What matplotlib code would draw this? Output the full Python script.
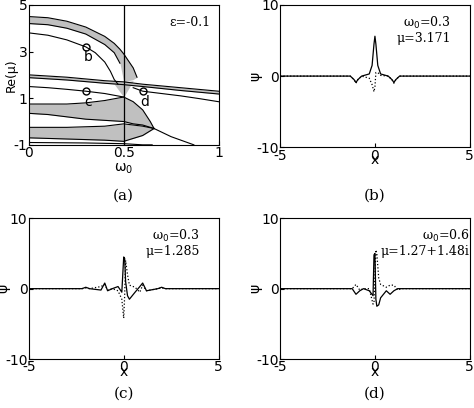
import matplotlib
matplotlib.use("Agg")
import matplotlib.pyplot as plt
import numpy as np

plt.rcParams['font.family'] = ['DejaVu Sans']
plt.rcParams['axes.unicode_minus'] = False

# ---- panel (a) band data ----
w_a = [0, 0.1, 0.2, 0.3, 0.4, 0.45, 0.48, 0.5, 0.55, 0.57]
bandA_hi = [4.5, 4.45, 4.3, 4.05, 3.65, 3.35, 3.1, 2.9, 2.3, 1.9]
bandA_lo = [4.2, 4.15, 4.0, 3.75, 3.3, 2.95, 2.5, 1.7, 1.8, 1.9]
w_b = [0, 0.2, 0.4, 0.5, 0.6, 0.8, 1.0]
bandB_hi = [2.0, 1.9, 1.75, 1.7, 1.6, 1.45, 1.3]
bandB_lo = [1.88, 1.78, 1.64, 1.58, 1.5, 1.33, 1.18]
w_t = [0.45, 0.5, 0.55]
tri_hi = [1.6, 1.7, 1.75]
tri_lo = [1.6, 1.05, 1.75]
w_c = [0, 0.1, 0.2, 0.3, 0.4, 0.5, 0.55, 0.6, 0.64, 0.66]
bandC_hi = [0.75, 0.75, 0.75, 0.8, 0.9, 1.05, 0.85, 0.5, 0.0, -0.3]
bandC_lo = [0.35, 0.3, 0.2, 0.1, 0.05, 0.0, -0.1, -0.15, -0.25, -0.3]
w_d = [0, 0.2, 0.4, 0.5, 0.6, 0.66]
bandD_hi = [-0.25, -0.25, -0.2, -0.1, -0.2, -0.3]
bandD_lo = [-0.7, -0.75, -0.8, -0.85, -0.6, -0.3]
# white-pocket / extra lines
w_bl = [0, 0.1, 0.2, 0.3, 0.35, 0.4, 0.43, 0.45, 0.47]
line_b = [3.8, 3.7, 3.5, 3.2, 2.95, 2.55, 2.15, 1.8, 1.6]
w_cl = [0, 0.1, 0.2, 0.3, 0.4, 0.5]
line_c = [1.5, 1.45, 1.38, 1.3, 1.2, 1.05]
w_dl = [0.55, 0.6, 0.7, 0.8, 0.9, 1.0]
line_d = [1.45, 1.3, 1.2, 1.1, 0.98, 0.85]
w_tail = [0.66, 0.75, 0.87]
tail = [-0.3, -0.65, -1.0]
w_bot = [0, 0.3, 0.5, 0.6, 0.65]
bot1 = [-0.9, -0.92, -0.95, -1.0, -1.0]
pts_w = [0.3, 0.3, 0.6]
pts_mu = [3.2, 1.3, 1.3]
pts_lab = ['b', 'c', 'd']

# ---- profile data ----
x_b = [-5, -1.3, -1.1, -1.0, -0.9, -0.7, -0.3, -0.15, -0.05, 0, 0.05, 0.15, 0.3, 0.7, 0.9, 1.0, 1.1, 1.3, 5]
sol_b = [0, 0, -0.5, -0.9, -0.5, 0, 0.3, 1.5, 4.5, 5.6, 4.5, 1.5, 0.3, 0, -0.5, -0.9, -0.5, 0, 0]
dot_b = [0, 0, -0.5, -1.0, -0.5, 0, -0.3, -1.2, -2.2, -1.5, 0.5, 0.5, 0.1, 0, -0.5, -1.0, -0.5, 0, 0]
x_c = [-5, -2.2, -2.0, -1.8, -1.2, -1.0, -0.85, -0.6, -0.3, -0.1, 0, 0.05, 0.1, 0.2, 0.3, 0.6, 0.85, 1.0, 1.2, 1.8, 2.0, 2.2, 5]
sol_c = [0, 0, 0.2, 0, -0.2, 0.8, -0.3, 0, 0.3, -0.5, 4.5, 4.3, 1.0, -1.0, -1.5, -0.5, 0.3, 0.8, -0.3, 0, 0.2, 0, 0]
dot_c = [0, 0, 0.1, 0, 0.3, 0.6, -0.2, 0, -0.3, -1.5, -4.2, -1.0, 4.0, 2.0, 0.5, 0.2, -0.5, 0.5, -0.3, 0, 0.1, 0, 0]
x_d = [-5, -1.2, -1.0, -0.8, -0.6, -0.3, -0.1, -0.05, 0, 0.05, 0.1, 0.2, 0.3, 0.6, 0.8, 1.0, 1.2, 1.4, 5]
sol_d = [0, 0, -0.8, -0.3, 0, -0.3, -1.0, 4.8, 5.0, -1.5, -2.5, -2.3, -1.3, -0.3, -0.8, -0.3, 0, 0, 0]
dot_d = [0, 0, 0.6, -0.2, 0, 0, -2.2, -2.0, 2.0, 5.5, 5.0, 1.5, 0.6, 0.2, 0.5, 0.5, -0.2, 0, 0]

fig = plt.figure(figsize=(4.74, 4.08), dpi=100)
tick_kw = dict(direction='in', labelsize=10, length=3, pad=1)

ax = fig.add_axes([0.061, 0.645, 0.40, 0.343])
g = '#c0c0c0'
ax.fill_between(w_a, bandA_lo, bandA_hi, color=g, lw=0)
ax.fill_between(w_b, bandB_lo, bandB_hi, color=g, lw=0)
ax.fill_between(w_t, tri_lo, tri_hi, color=g, lw=0)
ax.fill_between(w_c, bandC_lo, bandC_hi, color=g, lw=0)
ax.fill_between(w_d, bandD_lo, bandD_hi, color=g, lw=0)
for xx, yy in [(w_a, bandA_hi), (w_b, bandB_hi), (w_b, bandB_lo),
               (w_c, bandC_hi), (w_c, bandC_lo), (w_d, bandD_hi), (w_d, bandD_lo),
               (w_bl, line_b), (w_cl, line_c), (w_dl, line_d), (w_tail, tail), (w_bot, bot1)]:
    ax.plot(xx, yy, color='k', lw=0.8)
ax.plot(w_a[:7], bandA_lo[:7], color='k', lw=0.8)
ax.axvline(0.5, color='k', lw=0.9)
ax.plot(pts_w, pts_mu, 'o', mfc='none', mec='k', ms=5)
for w, m, l in zip(pts_w, pts_mu, pts_lab):
    ax.text(w + 0.01, m - 0.15, l, ha='center', va='top', fontsize=10)
ax.text(0.96, 4.1, 'ε=-0.1', ha='right', fontsize=9, family='DejaVu Serif')
ax.set_xlim(0, 1); ax.set_ylim(-1, 5)
ax.set_xticks([0, 0.5, 1]); ax.set_xticklabels(['0', '0.5', '1'])
ax.set_yticks([-1, 1, 3, 5])
ax.tick_params(**tick_kw)
ax.set_xlabel('ω$_0$', fontsize=10, labelpad=1)
ax.set_ylabel('Re(μ)', fontsize=9, labelpad=-3)
fig.text(0.26, 0.51, '(a)', ha='center', fontsize=11, family='DejaVu Serif')

def prof(rect, xs, s, d, label, lines, lab_y, txt_x=0.9):
    a = fig.add_axes(rect)
    a.plot(xs, s, color='k', lw=0.9)
    a.plot(xs, d, color='k', lw=0.9, ls=':')
    a.set_xlim(-5, 5); a.set_ylim(-10, 10)
    a.set_xticks([-5, 0, 5]); a.set_yticks([-10, 0, 10])
    a.tick_params(**tick_kw)
    a.set_xlabel('x', fontsize=10, labelpad=-7)
    a.set_ylabel('ψ', fontsize=10, labelpad=-4)
    a.text(txt_x, 0.93, lines, transform=a.transAxes, ha='right', va='top',
           fontsize=9, family='DejaVu Serif', linespacing=1.1)
    fig.text(rect[0] + rect[2] / 2, lab_y, label, ha='center', fontsize=11, family='DejaVu Serif')
    return a

prof([0.591, 0.639, 0.40, 0.349], x_b, sol_b, dot_b, '(b)', 'ω$_0$=0.3\nμ=3.171', 0.51)
prof([0.061, 0.12, 0.40, 0.345], x_c, sol_c, dot_c, '(c)', 'ω$_0$=0.3\nμ=1.285', 0.025)
prof([0.591, 0.12, 0.40, 0.345], x_d, sol_d, dot_d, '(d)', 'ω$_0$=0.6\nμ=1.27+1.48i', 0.025, txt_x=1.0)

fig.savefig('out.png', dpi=100)
